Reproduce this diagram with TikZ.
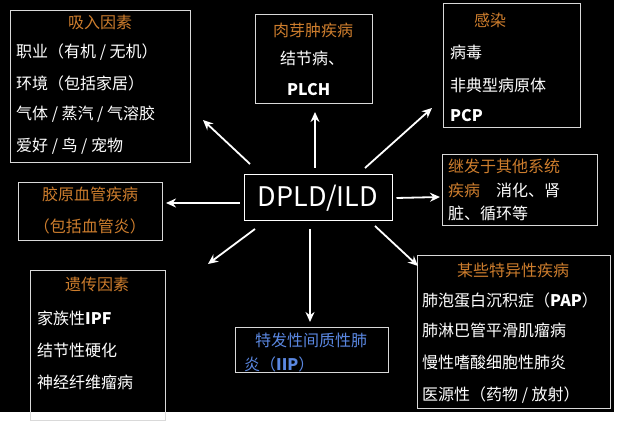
\documentclass[tikz,border=0pt]{standalone}
\usepackage{fontspec}
\setmainfont{Noto Sans CJK SC}
\usetikzlibrary{arrows.meta}
\definecolor{titleorange}{RGB}{205,125,45}
\definecolor{iipblue}{RGB}{90,135,225}
\tikzset{
  frame/.style={draw=white!85!black, line width=0.9pt},
  txt/.style={text=white, anchor=west, inner sep=0pt, font=\fontsize{16}{18}\selectfont},
  ttl/.style={text=titleorange, inner sep=0pt, font=\fontsize{16}{18}\selectfont},
  arr/.style={white, line width=1.8pt, -{Stealth[length=10pt,width=9pt]}}
}
\begin{document}
\begin{tikzpicture}[x=1pt,y=-1pt]
  \useasboundingbox (0,0) rectangle (640,435);
  \fill[white] (0,0) rectangle (640,435);
  \fill[black] (0,0) rectangle (614,412);
  % boxes
  \draw[frame] (10,10) rectangle (190,162);
  \draw[frame] (255,14) rectangle (372,103);
  \draw[frame] (443,3) rectangle (580,127);
  \draw[frame] (18,182) rectangle (162,240);
  \draw[frame] (442,154) rectangle (597,225);
  \draw[frame] (30,270) rectangle (165,420);
  \draw[frame] (235,327) rectangle (388,372);
  \draw[frame] (417,255) rectangle (610,408);
  % centre
  \node[draw=white, line width=1pt, text=white, minimum width=148pt, minimum height=46pt,
        font=\fontsize{27}{30}\selectfont] (ild) at (318,198) {DPLD/ILD};
  % inhalation
  \node[ttl] (inh) at (100,22) {吸入因素};
  \node[txt] (inh1) at (16,52) {职业（有机 / 无机）};
  \node[txt] (inh2) at (16,83) {环境（包括家居）};
  \node[txt] (inh3) at (16,114) {气体 / 蒸汽 / 气溶胶};
  \node[txt] (inh4) at (16,146) {爱好 / 鸟 / 宠物};
  % granuloma
  \node[ttl] (gra) at (313,30) {肉芽肿疾病};
  \node[txt] (gra1) at (280,58) {结节病、};
  \node[txt, font=\fontsize{16}{18}\selectfont\bfseries] (gra2) at (287,90) {PLCH};
  % infection
  \node[ttl] (inf) at (490,20) {感染};
  \node[txt] (inf1) at (450,52) {病毒};
  \node[txt] (inf2) at (450,85) {非典型病原体};
  \node[txt, font=\fontsize{16}{18}\selectfont\bfseries] (inf3) at (450,116) {PCP};
  % collagen
  \node[ttl] (col) at (90,194) {胶原血管疾病};
  \node[ttl] (col1) at (90,226) {（包括血管炎）};
  % secondary
  \node[ttl, anchor=west] (sec) at (448,166) {继发于其他系统};
  \node[txt] (sec1) at (448,190) {\textcolor{titleorange}{疾病}\quad 消化、肾};
  \node[txt] (sec2) at (448,213) {脏、循环等};
  % genetic
  \node[ttl] (gen) at (97,284) {遗传因素};
  \node[txt] (gen1) at (37,318) {家族性\textbf{IPF}};
  \node[txt] (gen2) at (37,350) {结节性硬化};
  \node[txt] (gen3) at (37,382) {神经纤维瘤病};
  % idiopathic
  \node[text=iipblue, inner sep=0pt, font=\fontsize{16}{18}\selectfont] (iip) at (311,340) {特发性间质性肺};
  \node[text=iipblue, inner sep=0pt, anchor=west, font=\fontsize{16}{18}\selectfont] (iip1) at (244,364) {炎（\textbf{IIP}）};
  % specific
  \node[ttl] (spe) at (513,270) {某些特异性疾病};
  \node[txt] (spe1) at (422,300) {肺泡蛋白沉积症（\textbf{PAP}）};
  \node[txt] (spe2) at (422,330) {肺淋巴管平滑肌瘤病};
  \node[txt] (spe3) at (422,362) {慢性嗜酸细胞性肺炎};
  \node[txt] (spe4) at (422,395) {医源性（药物 / 放射）};
  % arrows
  \coordinate (a1) at (203,120);
  \coordinate (a2) at (315,112);
  \coordinate (a3) at (432,108);
  \coordinate (a4) at (166,203);
  \coordinate (a5) at (440,197);
  \coordinate (a6) at (208,264);
  \coordinate (a7) at (310,322);
  \coordinate (a8) at (418,266);
  \draw[arr] (250,164) -- (a1);
  \draw[arr] (315,168) -- (a2);
  \draw[arr] (365,168) -- (a3);
  \draw[arr] (ild.west) ++(-4,5) -- (a4);
  \draw[arr] (ild.east) ++(4,0) -- (a5);
  \draw[arr] (255,229) -- (a6);
  \draw[arr] (310,229) -- (a7);
  \draw[arr] (375,226) -- (a8);
\end{tikzpicture}
\end{document}
